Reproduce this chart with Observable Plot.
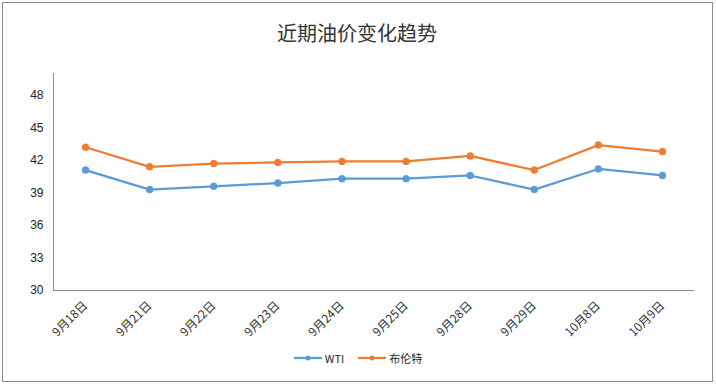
<!DOCTYPE html>
<html><head><meta charset="utf-8">
<script src="https://cdn.jsdelivr.net/npm/d3@7"></script>
<script src="https://cdn.jsdelivr.net/npm/@observablehq/plot@0.6"></script>
<style>
body{margin:0;background:#fff;}
#wrap{position:relative;width:716px;height:385px;overflow:hidden;font-family:"Noto Sans CJK SC",sans-serif;}
#border{position:absolute;left:2px;top:2px;width:709px;height:378px;border:1px solid #8c8c8c;pointer-events:none;}
#title{position:absolute;left:0;width:714px;top:18px;text-align:center;font-size:20px;color:#333;line-height:30px;}
#chart{position:absolute;left:0;top:0;}
#legend{position:absolute;top:349px;left:0;width:716px;display:flex;justify-content:center;gap:14px;font-size:11px;color:#222;line-height:18px;}
#legend .item{display:flex;align-items:center;gap:3px;}
</style></head>
<body>
<div id="wrap">
  <div id="chart"></div>
  <div id="title">近期油价变化趋势</div>
  <div id="legend"></div>
  <div id="border"></div>
</div>
<script>
const dates = ["9月18日","9月21日","9月22日","9月23日","9月24日","9月25日","9月28日","9月29日","10月8日","10月9日"];
const wti   = [41.1, 39.3, 39.6, 39.9, 40.3, 40.3, 40.6, 39.3, 41.2, 40.6];
const brent = [43.2, 41.4, 41.7, 41.8, 41.9, 41.9, 42.4, 41.1, 43.4, 42.8];
const seriesNames = ["WTI", "布伦特"];
const seriesColors = ["#5B9BD5", "#ED7D31"];
const yTicks = [30, 33, 36, 39, 42, 45, 48];
const yDomain = [30, 50];

const seriesValues = [wti, brent];
const data = seriesNames.flatMap((s, k) => dates.map((d, i) => ({i, date: d, series: s, value: seriesValues[k][i]})));

const chart = Plot.plot({
  width: 716, height: 345,
  marginTop: 73, marginBottom: 55, marginLeft: 53, marginRight: 22,
  style: {fontFamily: "'Liberation Sans', 'Noto Sans CJK SC', sans-serif", fontSize: "12px", color: "#222", background: "transparent"},
  x: {type: "linear", domain: [-0.5, dates.length - 0.5]},
  y: {domain: yDomain},
  color: {domain: seriesNames, range: seriesColors},
  marks: [
    Plot.axisY({ticks: yTicks, tickSize: 0, tickPadding: 10, label: null, fontSize: 12}),
    Plot.axisX({ticks: d3.range(dates.length), tickFormat: i => dates[i], tickRotate: -45, tickSize: 0, tickPadding: 13, label: null, fontSize: 12, fontFamily: "'Noto Sans CJK SC', sans-serif", fill: "#333"}),
    Plot.ruleY([yDomain[0]], {stroke: "#8c8c8c", strokeWidth: 1}),
    Plot.ruleX([-0.5], {stroke: "#8c8c8c", strokeWidth: 1}),
    Plot.line(data, {x: "i", y: "value", z: "series", stroke: "series", strokeWidth: 2.25}),
    Plot.dot(data, {x: "i", y: "value", fill: "series", r: 3.5, stroke: "series", strokeWidth: 0.5})
  ]
});
document.getElementById("chart").appendChild(chart);

const legend = d3.select("#legend");
seriesNames.forEach((s, k) => {
  const item = legend.append("div").attr("class", "item");
  const svg = item.append("svg").attr("width", 28).attr("height", 8);
  svg.append("line").attr("x1", 0).attr("x2", 28).attr("y1", 4).attr("y2", 4).attr("stroke", seriesColors[k]).attr("stroke-width", 2.25);
  svg.append("circle").attr("cx", 14).attr("cy", 4).attr("r", 2.5).attr("fill", seriesColors[k]);
  item.append("span").text(s);
});
</script>
</body></html>
